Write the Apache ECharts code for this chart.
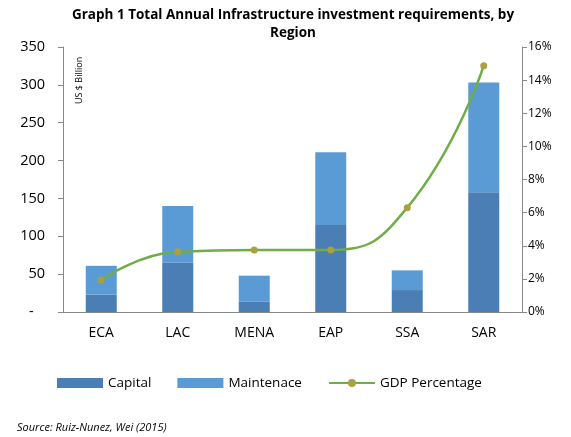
<!DOCTYPE html>
<html>
<head>
    <meta charset="UTF-8">
    <title>Graph 1</title>
    <script type="text/javascript" src="https://cdn.jsdelivr.net/npm/echarts@6/dist/echarts.min.js"></script>
    <style>
        html, body { margin: 0; padding: 0; background: #fff; }
        #main { width: 571px; height: 437px; }
    </style>
</head>
<body>
<div id="main"></div>
<script type="text/javascript">
    var regions = ['ECA', 'LAC', 'MENA', 'EAP', 'SSA', 'SAR'];
    var capital = [23, 65, 14, 115, 29, 158];
    var maintenance = [38, 75, 34, 96, 26, 145];
    var gdpPct = [1.93, 3.64, 3.74, 3.74, 6.3, 14.87];
    var leftTicks = [0, 50, 100, 150, 200, 250, 300, 350];

    var font = 'Open Sans';
    var myChart = echarts.init(document.getElementById('main'));
    myChart.setOption({
        animation: false,
        title: {
            text: 'Graph 1 Total Annual Infrastructure investment requirements, by\nRegion',
            left: 288, top: 1, textAlign: 'center',
            textStyle: { fontFamily: font, fontSize: 13.5, fontWeight: 'bold', color: '#000', lineHeight: 18 }
        },
        grid: { left: 63, right: 49, top: 47, bottom: 125 },
        legend: {
            bottom: 42, left: 52, itemGap: 26, itemWidth: 46, itemHeight: 10,
            textStyle: { fontFamily: font, fontSize: 13.5, color: '#000' },
            data: [
                { name: 'Capital', icon: 'rect' },
                { name: 'Maintenace', icon: 'rect' },
                { name: 'GDP Percentage' }
            ]
        },
        graphic: [
            {
                type: 'text', left: 17, bottom: 4,
                style: { text: 'Source: Ruiz-Nunez, Wei (2015)', font: 'italic 11px "Open Sans"', fill: '#000' }
            },
            {
                type: 'text', x: 75, y: 104, rotation: Math.PI / 2,
                style: { text: 'US $ Billion', font: '9px "Open Sans"', fill: '#000' }
            }
        ],
        xAxis: {
            type: 'category', data: regions,
            axisLine: { lineStyle: { color: '#888' } },
            axisTick: { alignWithLabel: false, length: 5, lineStyle: { color: '#888' } },
            axisLabel: { fontFamily: font, fontSize: 14, color: '#000', margin: 14 }
        },
        yAxis: [
            {
                type: 'value', min: 0, max: 350, interval: 50,
                splitLine: { show: false },
                axisLine: { show: true, lineStyle: { color: '#888' } },
                axisTick: { show: true, length: 5, lineStyle: { color: '#888' } },
                axisLabel: {
                    fontFamily: font, fontSize: 14.5, color: '#000', margin: 18,
                    formatter: function (v) { return leftTicks.indexOf(v) === 0 ? '-   ' : v; }
                }
            },
            {
                type: 'value', min: 0, max: 16, interval: 2,
                splitLine: { show: false },
                axisLine: { show: true, lineStyle: { color: '#888' } },
                axisTick: { show: true, length: 5, lineStyle: { color: '#888' } },
                axisLabel: { fontFamily: font, fontSize: 12, color: '#000', margin: 6, formatter: '{value}%' }
            }
        ],
        series: [
            {
                name: 'Capital', type: 'bar', stack: 'inv', barWidth: 31,
                itemStyle: { color: '#4a7eb4' }, data: capital
            },
            {
                name: 'Maintenace', type: 'bar', stack: 'inv', barWidth: 31,
                itemStyle: { color: '#5b9bd5' }, data: maintenance
            },
            {
                name: 'GDP Percentage', type: 'line', yAxisIndex: 1, smooth: 0.5,
                symbol: 'circle', symbolSize: 7,
                lineStyle: { color: '#70ad47', width: 2.5 },
                itemStyle: { color: '#a9a041' },
                data: gdpPct
            }
        ]
    });
</script>
</body>
</html>
